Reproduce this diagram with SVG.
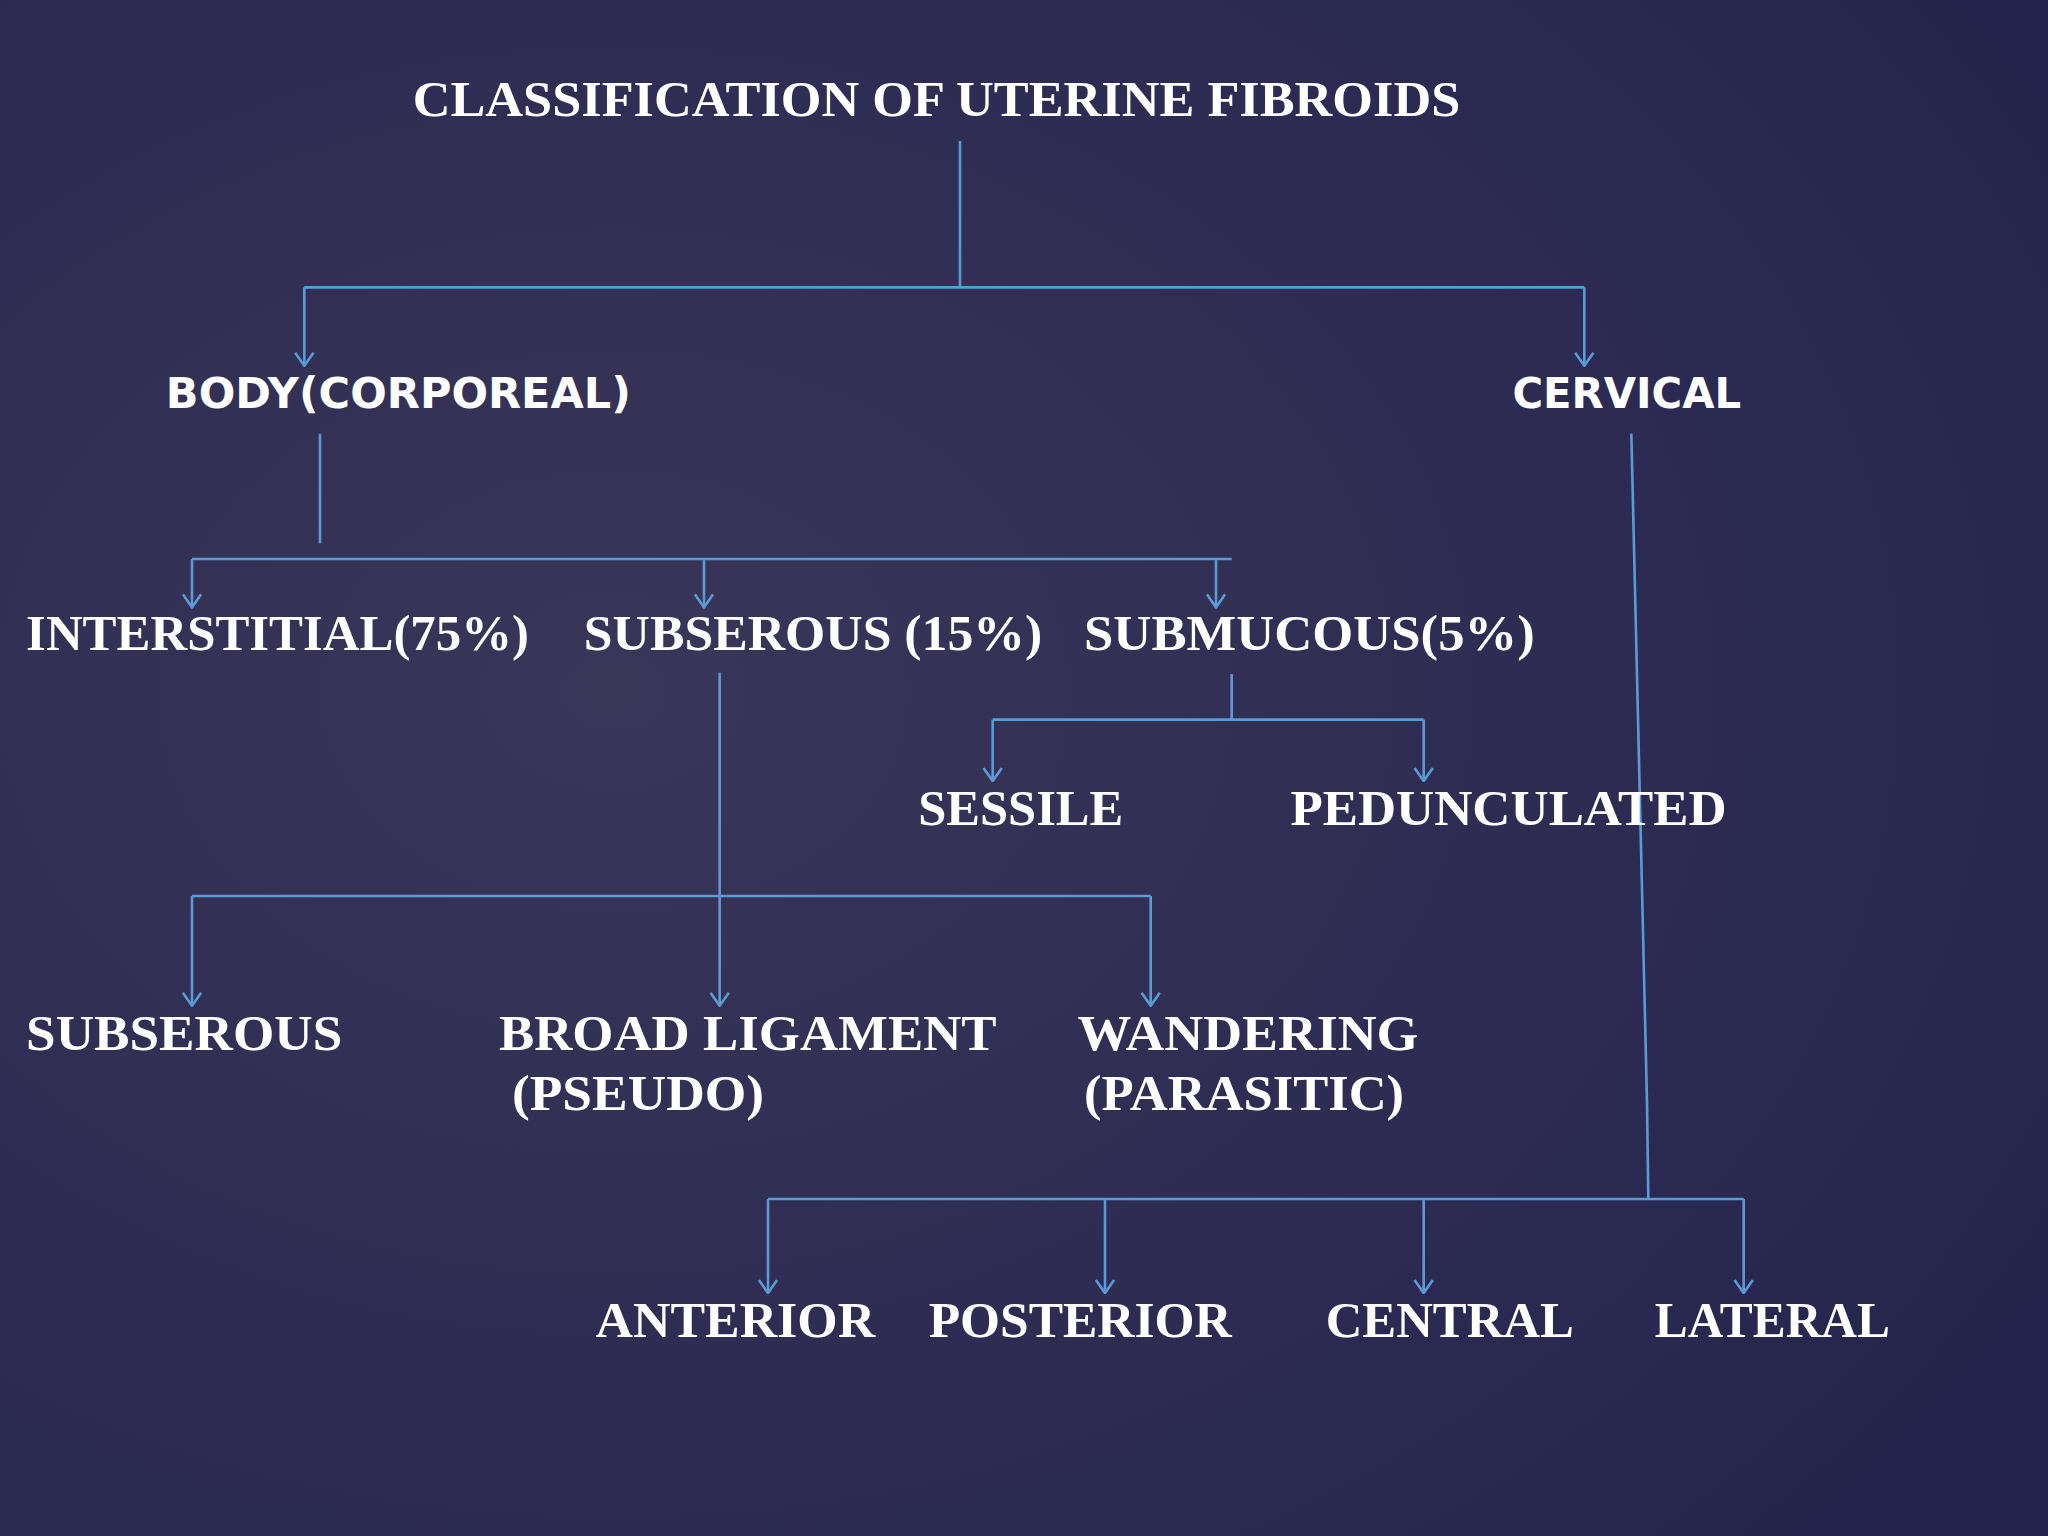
<svg xmlns="http://www.w3.org/2000/svg" width="2048" height="1536" viewBox="0 0 2048 1536">
<defs>
<radialGradient id="bg" cx="0.3" cy="0.45" r="0.9">
<stop offset="0" stop-color="#3a3658"/>
<stop offset="0.6" stop-color="#2c2a52"/>
<stop offset="1" stop-color="#21234c"/>
</radialGradient>
<marker id="ah" viewBox="0 0 12 16" refX="11" refY="8" markerWidth="12" markerHeight="16" markerUnits="userSpaceOnUse" orient="auto">
<path d="M1,1 L11,8 L1,15" fill="none" stroke="#5b9bd5" stroke-width="2"/>
</marker>
<style>
.s{font-family:"Liberation Serif","DejaVu Serif",serif;font-weight:bold;fill:#ffffff;font-size:38px}
.g{font-family:"DejaVu Sans","Liberation Sans",sans-serif;font-weight:bold;fill:#ffffff;font-size:32px}
.l{fill:none;stroke:#5b9bd5;stroke-width:2}
.a{fill:none;stroke:#5b9bd5;stroke-width:2;marker-end:url(#ah)}
</style>
</defs>
<rect width="2048" height="1536" fill="url(#bg)"/>
<g transform="scale(1.30612)">
<g id="connectors">
<path class="l" d="M735,108 V220 M233,220 H1213"/>
<path class="a" d="M233,220 V280"/>
<path class="a" d="M1213,220 V280"/>
<path class="l" d="M245,332 V416 M147,428 H943"/>
<path class="a" d="M147,428 V465"/>
<path class="a" d="M539,428 V465"/>
<path class="a" d="M931,428 V465"/>
<path class="l" d="M943,516 V551 M760,551 H1090"/>
<path class="a" d="M760,551 V598"/>
<path class="a" d="M1090,551 V598"/>
<path class="a" d="M551,515 V770"/>
<path class="l" d="M147,686 H881"/>
<path class="a" d="M147,686 V770"/>
<path class="a" d="M881,686 V770"/>
<path class="l" d="M1249,332 L1261,845 L1262,918 M588,918 H1335"/>
<path class="a" d="M588,918 V990"/>
<path class="a" d="M846,918 V990"/>
<path class="a" d="M1090,918 V990"/>
<path class="a" d="M1335,918 V990"/>
</g>
<g id="title"><text class="s" x="316" y="89" font-size="36" textLength="802" lengthAdjust="spacingAndGlyphs">CLASSIFICATION OF UTERINE FIBROIDS</text></g>
<g id="body"><text class="g" x="127" y="312" textLength="356" lengthAdjust="spacingAndGlyphs">BODY(CORPOREAL)</text></g>
<g id="cervical"><text class="g" x="1158" y="312" textLength="175" lengthAdjust="spacingAndGlyphs">CERVICAL</text></g>
<g id="interstitial"><text class="s" x="20" y="498" textLength="385" lengthAdjust="spacingAndGlyphs">INTERSTITIAL(75%)</text></g>
<g id="subserous15"><text class="s" x="447" y="498" textLength="351" lengthAdjust="spacingAndGlyphs">SUBSEROUS (15%)</text></g>
<g id="submucous"><text class="s" x="830" y="498" textLength="345" lengthAdjust="spacingAndGlyphs">SUBMUCOUS(5%)</text></g>
<g id="sessile"><text class="s" x="703" y="632" textLength="157" lengthAdjust="spacingAndGlyphs">SESSILE</text></g>
<g id="pedunculated"><text class="s" x="988" y="632" textLength="334" lengthAdjust="spacingAndGlyphs">PEDUNCULATED</text></g>
<g id="subserous"><text class="s" x="20" y="804" textLength="242" lengthAdjust="spacingAndGlyphs">SUBSEROUS</text></g>
<g id="broad"><text class="s" x="382" y="804" textLength="381" lengthAdjust="spacingAndGlyphs">BROAD LIGAMENT</text><text class="s" x="392" y="850" textLength="193" lengthAdjust="spacingAndGlyphs">(PSEUDO)</text></g>
<g id="wandering"><text class="s" x="825" y="804" textLength="261" lengthAdjust="spacingAndGlyphs">WANDERING</text><text class="s" x="830" y="850" textLength="245" lengthAdjust="spacingAndGlyphs">(PARASITIC)</text></g>
<g id="anterior"><text class="s" x="456" y="1024" textLength="214" lengthAdjust="spacingAndGlyphs">ANTERIOR</text></g>
<g id="posterior"><text class="s" x="711" y="1024" textLength="232" lengthAdjust="spacingAndGlyphs">POSTERIOR</text></g>
<g id="central"><text class="s" x="1015" y="1024" textLength="190" lengthAdjust="spacingAndGlyphs">CENTRAL</text></g>
<g id="lateral"><text class="s" x="1267" y="1024" textLength="180" lengthAdjust="spacingAndGlyphs">LATERAL</text></g>
</g>
</svg>
